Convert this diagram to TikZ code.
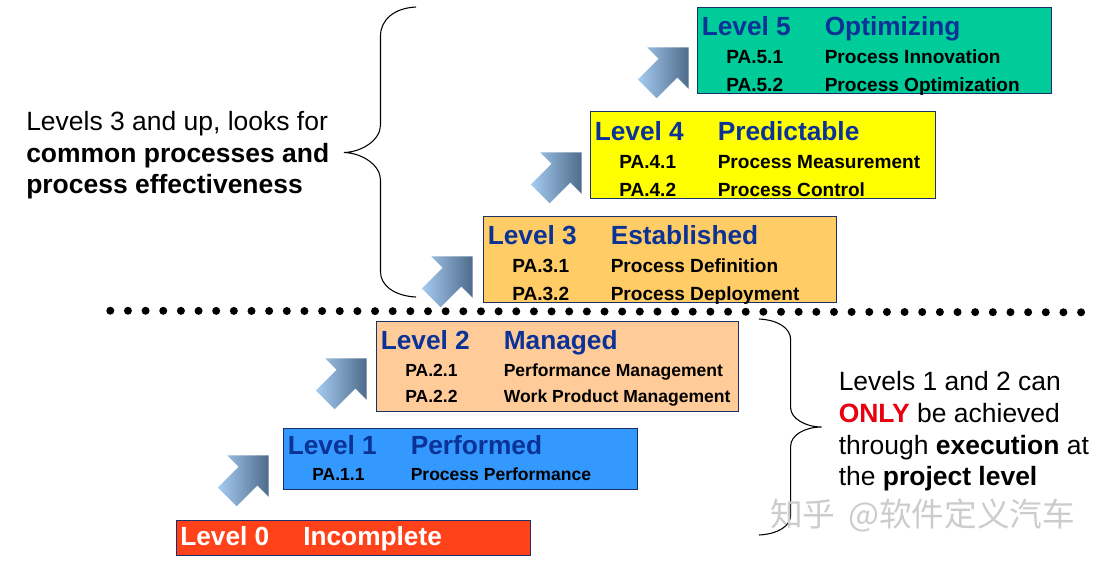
\documentclass[tikz,border=0pt]{standalone}
\usepackage{fontspec}
\setmainfont{Liberation Sans}
\newfontfamily\cjk{Noto Sans CJK SC}
\usepackage{xcolor}
\usetikzlibrary{shapes.arrows}
\definecolor{boxedge}{HTML}{1B2F6B}
\definecolor{titleblue}{HTML}{0B3296}
\definecolor{lvlzero}{HTML}{FF4219}
\definecolor{lvlone}{HTML}{3399FF}
\definecolor{lvltwo}{HTML}{FFCC99}
\definecolor{lvlthree}{HTML}{FFCC66}
\definecolor{lvlfour}{HTML}{FFFF00}
\definecolor{lvlfive}{HTML}{00CC99}
\definecolor{onlyred}{HTML}{E8000F}
\definecolor{stepfrom}{HTML}{A6CCF2}
\definecolor{stepto}{HTML}{4E6B8A}
\tikzset{
    levelbox/.style={
        draw=boxedge,
        line width=0.8pt,
        rectangle,
        anchor=north west,
        inner sep=0pt
    },
    titletext/.style={
        anchor=base west,
        inner sep=0pt,
        text=titleblue,
        font=\fontsize{19.7}{23}\selectfont\bfseries
    },
    patext/.style={
        anchor=base west,
        inner sep=0pt,
        font=\fontsize{#1}{17}\selectfont\bfseries
    },
    bodytext/.style={
        anchor=north west,
        inner sep=0pt,
        align=left,
        font=\fontsize{19.85}{23.7}\selectfont
    },
    stepup/.style={
        single arrow,
        shade,
        left color=stepfrom,
        right color=stepto,
        rotate=45,
        anchor=tip,
        inner xsep=0pt,
        inner ysep=9.7pt,
        minimum height=44pt,
        minimum width=44pt,
        single arrow head extend=12pt
    },
    bracket/.style={
        draw=black,
        line width=0.8pt
    },
    dotrow/.style={
        line width=6pt,
        line cap=round,
        dash pattern=on 0pt off 13.238pt
    }
}
\begin{document}
\begin{tikzpicture}[x=0.75pt,y=-0.75pt]
  \useasboundingbox (0,0) rectangle (1101,562);

  \foreach \lv/\x/\y/\w/\h/\b/\col/\name in {
    1/283/428/354/61/454/lvlone/Performed,
    2/376/321/362/90/349/lvltwo/Managed,
    3/483/216/353/86/244/lvlthree/Established,
    4/590/111/345/87/140/lvlfour/Predictable,
    5/697/7/354/86/35/lvlfive/Optimizing} {
    \node[levelbox, fill=\col, minimum width={\w*0.75pt}, minimum height={\h*0.75pt}] (box\lv) at (\x,\y) {};
    \node[titletext] (level\lv) at (\x+4.5,\b) {Level \lv};
    \node[titletext] (name\lv) at (\x+127.5,\b) {\name};
  }

  \node[levelbox, fill=lvlzero, minimum width={354*0.75pt}, minimum height={35*0.75pt}] (box0) at (176,520) {};
  \node[titletext, text=white] (level0) at (180,545) {Level 0};
  \node[titletext, text=white] (name0) at (303,545) {Incomplete};

  \foreach \pa/\x/\y/\fs/\txt in {
    1.1/312/480/13.15/Process Performance,
    2.1/405/376/13.15/Performance Management,
    2.2/405/402/13.15/Work Product Management,
    3.1/512/272.5/14.3/Process Definition,
    3.2/512/300.5/14.3/Process Deployment,
    4.1/619/168.5/14.3/Process Measurement,
    4.2/619/196.5/14.3/Process Control,
    5.1/726/63.5/14.3/Process Innovation,
    5.2/726/91.5/14.3/Process Optimization} {
    \node[patext=\fs] (pa\pa) at (\x,\y) {PA.\pa};
    \node[patext=\fs] (txt\pa) at (\x+98.5,\y) {\txt};
  }

  \foreach \i/\x/\y in {1/269/455,2/367/358,3/473/256,4/582/152,5/689/47} {
    \node[stepup] (up\i) at (\x,\y) {};
  }

  \coordinate (dotleft) at (110.3,310.7);
  \coordinate (dotright) at (1082.6,312.3);
  \draw[dotrow] (dotleft) -- (dotright);

  \draw[bracket] (416,7) .. controls (394,8) and (380.5,20) .. (380.5,36) -- (380.5,125)
    .. controls (380.5,140) and (362,152) .. (344,152.5)
    .. controls (362,153) and (380.5,165) .. (380.5,180) -- (380.5,272)
    .. controls (380.5,285) and (394,296) .. (416,297);
  \draw[bracket] (759,319) .. controls (778,320) and (790.7,328) .. (790.7,340) -- (790.7,408)
    .. controls (790.7,418) and (805,427) .. (821.7,427)
    .. controls (805,427) and (790.7,435) .. (790.7,446) -- (790.7,515)
    .. controls (790.7,526) and (778,534) .. (759,535);

  \node[bodytext] (lefttext) at (26,111) {Levels 3 and up, looks for\\\textbf{common processes and}\\\textbf{process effectiveness}};
  \node[bodytext] (righttext) at (838.5,371.5) {Levels 1 and 2 can\\\textcolor{onlyred}{\textbf{ONLY}} be achieved\\through \textbf{execution} at\\the \textbf{project level}};

  \node[anchor=west, inner sep=0pt, text=black!20, font=\fontsize{24.5}{30}\cjk] (mark) at (770,515) {知乎\hspace{4pt} @软件定义汽车};
\end{tikzpicture}
\end{document}
